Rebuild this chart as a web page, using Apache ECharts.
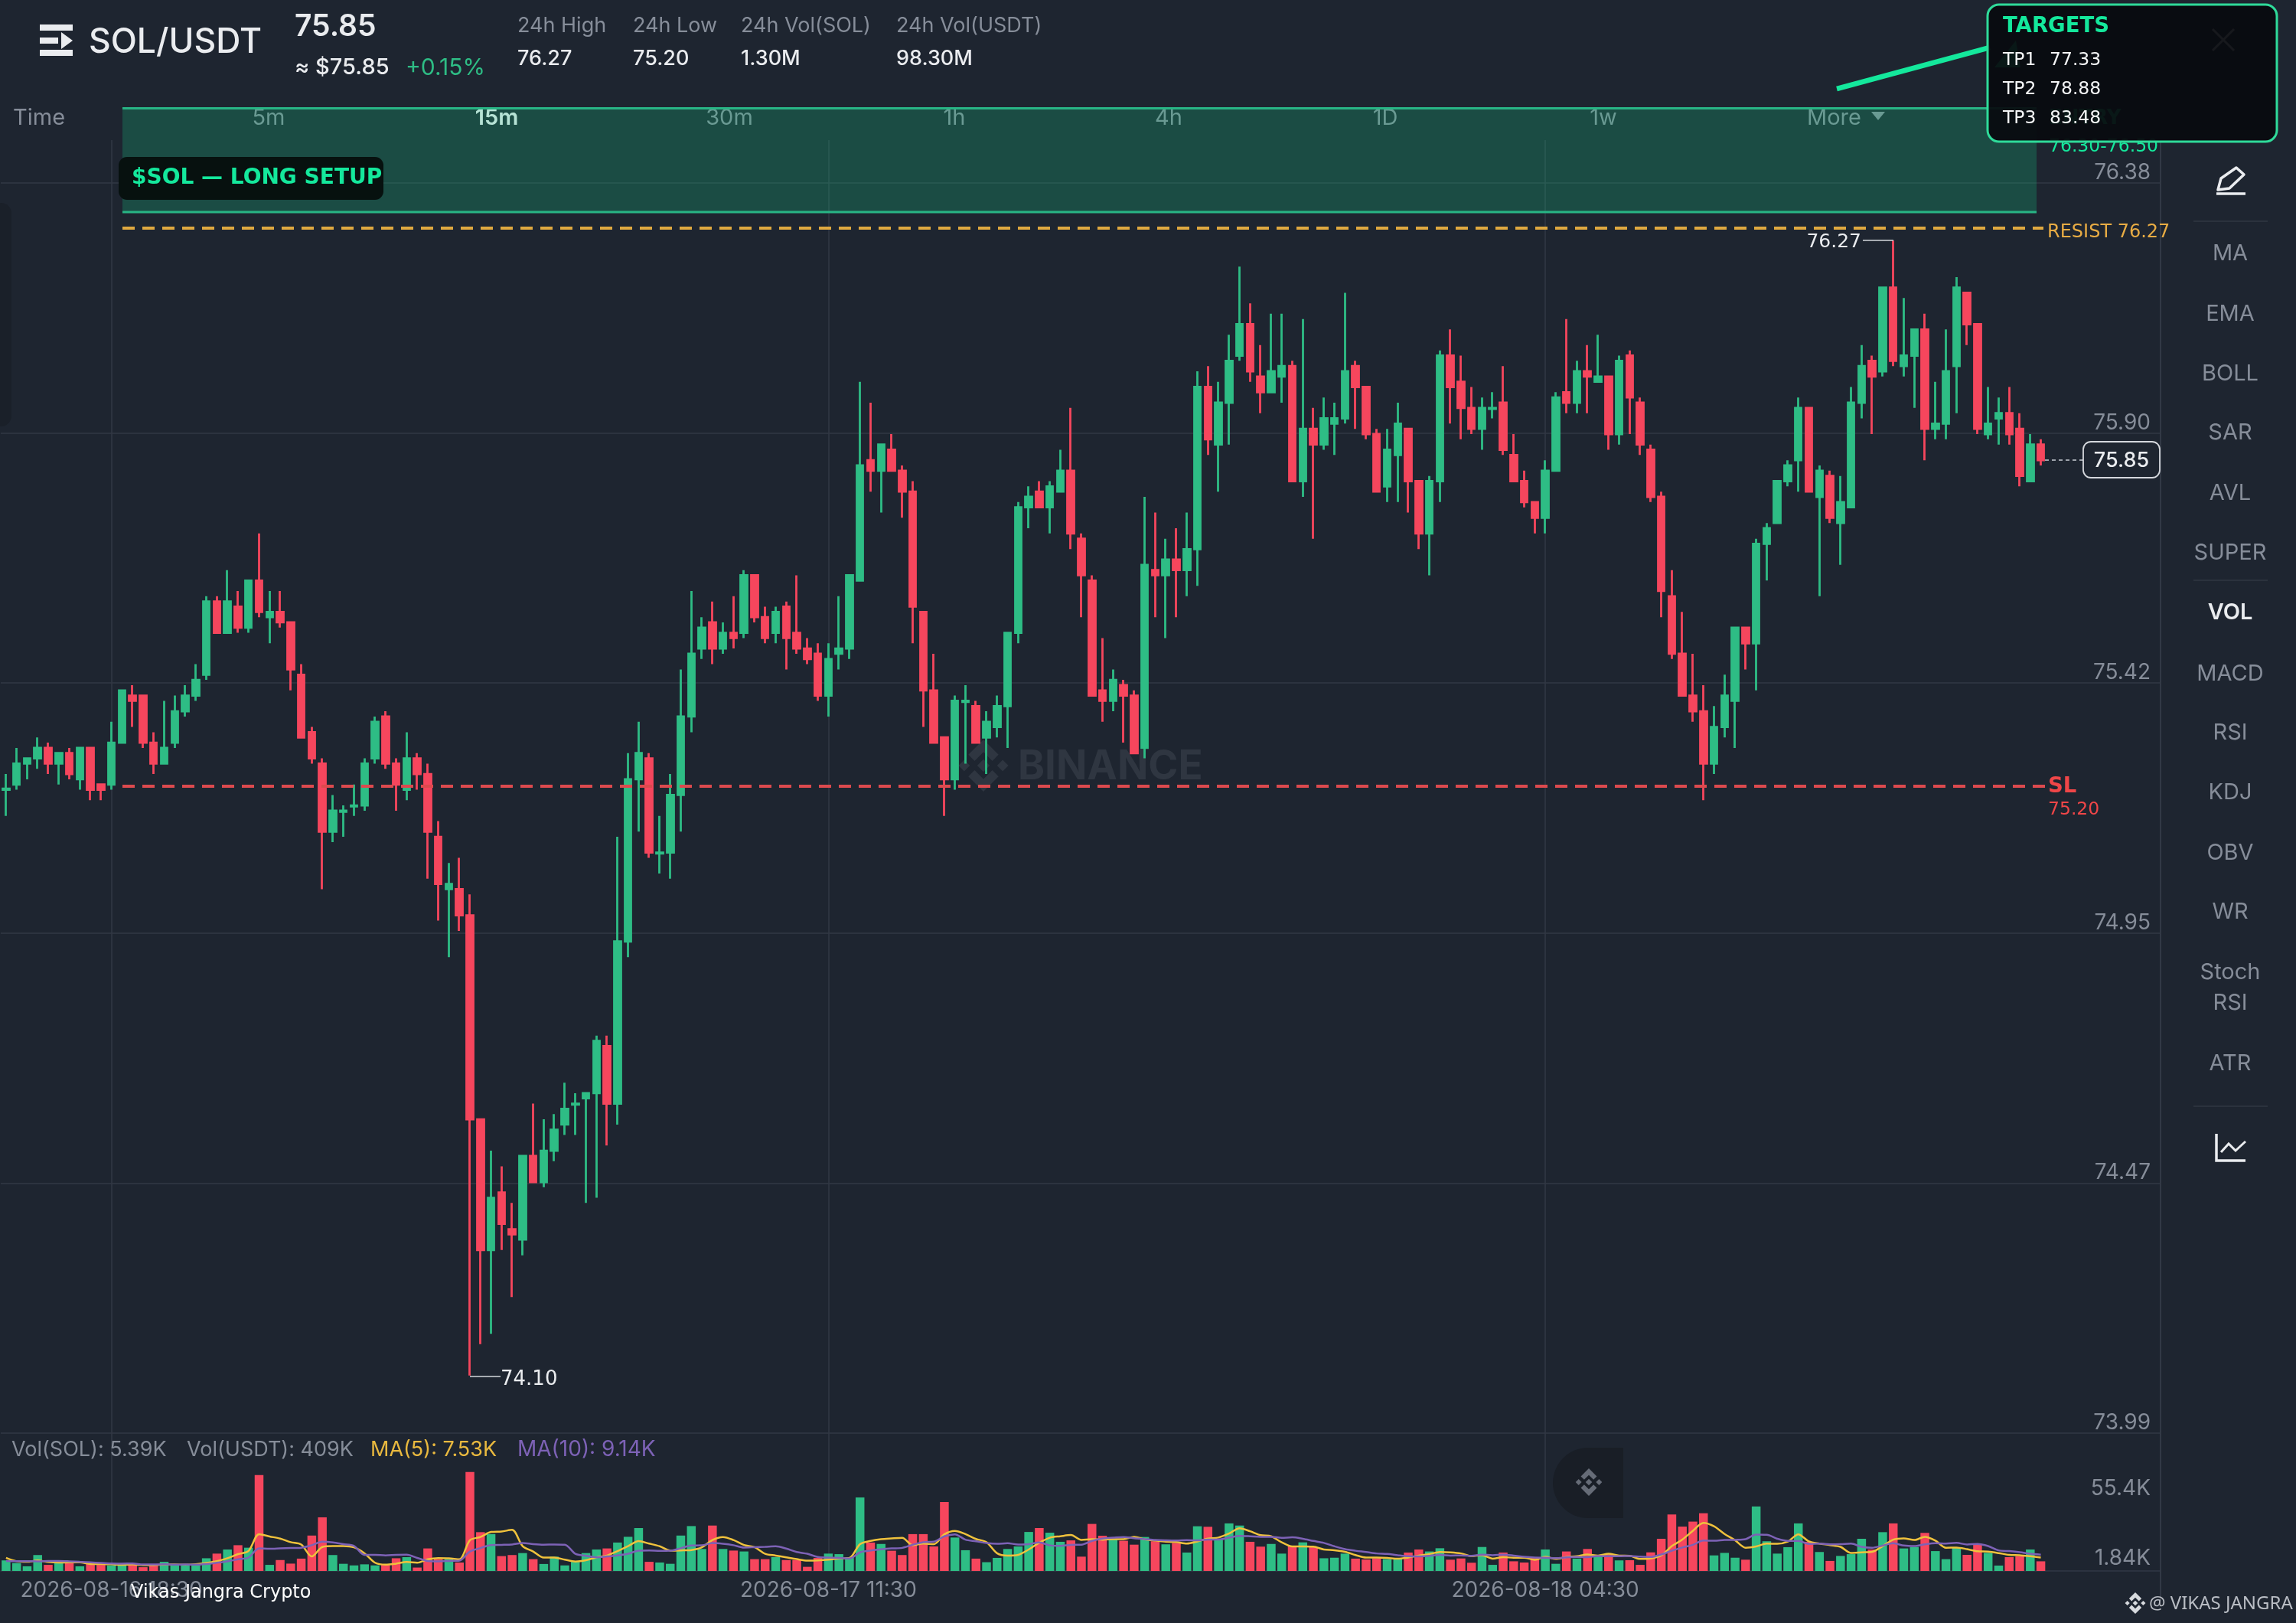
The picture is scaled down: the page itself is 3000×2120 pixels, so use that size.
<!DOCTYPE html>
<html><head><meta charset="utf-8">
<style>html,body{margin:0;padding:0;background:#1e2530}#c{width:3000px;height:2120px}</style>
<script src="https://cdn.jsdelivr.net/npm/echarts@6/dist/echarts.min.js"></script>
</head><body><div id="c"></div>
<script>
const opens=[75.22,75.23,75.27,75.28,75.30,75.27,75.29,75.24,75.30,75.23,
75.23,75.31,75.40,75.40,75.31,75.27,75.31,75.37,75.40,75.44,
75.58,75.52,75.57,75.53,75.62,75.55,75.56,75.54,75.44,75.33,
75.27,75.14,75.178,75.188,75.19,75.28,75.36,75.27,75.22,75.28,
75.25,75.13,75.03,75.03,74.98,74.59,74.34,74.45,74.38,74.36,
74.52,74.47,74.53,74.58,74.618,74.63,74.64,74.73,74.62,74.93,
75.24,75.28,75.098,75.10,75.21,75.36,75.49,75.54,75.49,75.52,
75.52,75.63,75.55,75.52,75.57,75.52,75.49,75.48,75.40,75.48,
75.49,75.62,75.85,75.83,75.87,75.83,75.79,75.56,75.41,75.32,
75.24,75.388,75.38,75.32,75.34,75.38,75.52,75.76,75.79,75.76,
75.79,75.83,75.70,75.62,75.41,75.39,75.42,75.40,75.30,75.64,
75.63,75.66,75.64,75.68,75.99,75.88,75.96,76.05,76.11,76.01,
75.98,76.01,76.03,75.81,75.91,75.88,75.92,75.93,76.03,75.99,
75.90,75.80,75.86,75.91,75.81,75.71,75.81,76.05,76.00,75.95,
75.91,75.948,75.96,75.86,75.81,75.77,75.74,75.83,75.98,75.96,
76.02,76.00,76.01,75.90,76.05,75.96,75.87,75.78,75.59,75.48,
75.40,75.37,75.27,75.34,75.39,75.53,75.50,75.69,75.73,75.81,
75.85,75.95,75.78,75.82,75.73,75.76,75.96,76.04,76.02,76.18,
76.03,76.05,76.10,75.91,75.92,76.03,76.17,76.11,75.90,75.93,
75.94,75.91,75.81,75.88];
const closes=[75.222,75.27,75.28,75.30,75.27,75.29,75.25,75.30,75.22,75.22,
75.31,75.41,75.39,75.31,75.27,75.30,75.37,75.40,75.43,75.58,
75.52,75.58,75.53,75.62,75.56,75.56,75.54,75.45,75.32,75.28,
75.14,75.18,75.18,75.19,75.27,75.35,75.27,75.23,75.28,75.25,
75.14,75.04,75.04,74.98,74.59,74.34,74.44,74.39,74.37,74.52,
74.47,74.53,74.57,74.61,74.62,74.64,74.74,74.62,74.93,75.24,
75.29,75.10,75.10,75.21,75.36,75.48,75.53,75.49,75.52,75.51,
75.63,75.55,75.51,75.56,75.51,75.49,75.47,75.40,75.47,75.49,
75.63,75.84,75.83,75.88,75.83,75.79,75.57,75.41,75.31,75.24,
75.39,75.39,75.31,75.35,75.38,75.52,75.76,75.78,75.76,75.80,
75.83,75.71,75.63,75.40,75.39,75.43,75.40,75.29,75.65,75.63,
75.66,75.64,75.68,75.99,75.89,75.96,76.04,76.11,76.02,75.98,
76.02,76.03,75.81,75.91,75.88,75.93,75.93,76.02,75.99,75.90,
75.79,75.87,75.92,75.81,75.71,75.81,76.05,75.99,75.95,75.91,
75.95,75.95,75.87,75.81,75.77,75.74,75.83,75.97,75.96,76.02,
76.01,76.01,75.90,76.04,75.97,75.88,75.78,75.60,75.48,75.40,
75.37,75.27,75.34,75.40,75.53,75.50,75.69,75.72,75.81,75.84,
75.95,75.79,75.83,75.74,75.77,75.96,76.03,76.01,76.18,76.04,
76.05,76.10,75.91,75.92,76.02,76.18,76.11,75.91,75.92,75.94,
75.90,75.82,75.88,75.85];
const lows=[75.17,75.22,75.24,75.26,75.25,75.23,75.24,75.22,75.20,75.20,
75.22,75.31,75.34,75.30,75.25,75.27,75.30,75.36,75.39,75.43,
75.52,75.52,75.52,75.52,75.55,75.50,75.53,75.41,75.32,75.27,
75.03,75.12,75.13,75.17,75.18,75.27,75.26,75.18,75.20,75.22,
75.05,74.97,74.90,74.95,74.10,74.16,74.18,74.34,74.25,74.33,
74.47,74.46,74.51,74.56,74.56,74.43,74.44,74.54,74.58,74.90,
75.14,75.09,75.06,75.05,75.14,75.33,75.47,75.46,75.48,75.49,
75.51,75.54,75.50,75.50,75.45,75.48,75.46,75.39,75.36,75.45,
75.47,75.62,75.79,75.75,75.83,75.74,75.50,75.34,75.31,75.17,
75.22,75.27,75.31,75.25,75.32,75.30,75.50,75.72,75.76,75.71,
75.79,75.68,75.55,75.40,75.35,75.37,75.31,75.29,75.28,75.55,
75.51,75.55,75.59,75.61,75.86,75.79,75.88,76.04,76.00,75.94,
75.98,75.96,75.81,75.78,75.70,75.87,75.86,75.92,75.91,75.89,
75.79,75.77,75.77,75.75,75.68,75.63,75.77,75.92,75.89,75.90,
75.87,75.93,75.86,75.81,75.76,75.71,75.71,75.83,75.94,75.94,
75.94,76.00,75.87,75.88,75.90,75.86,75.77,75.55,75.47,75.40,
75.35,75.20,75.25,75.32,75.30,75.45,75.41,75.62,75.73,75.80,
75.79,75.79,75.59,75.73,75.65,75.76,75.93,75.90,76.01,76.03,
76.01,75.95,75.85,75.89,75.89,75.94,76.07,75.90,75.89,75.88,
75.88,75.80,75.81,75.84];
const highs=[75.25,75.30,75.28,75.32,75.31,75.29,75.30,75.30,75.30,75.23,
75.35,75.41,75.42,75.40,75.33,75.39,75.40,75.42,75.46,75.59,
75.59,75.64,75.60,75.62,75.71,75.60,75.60,75.54,75.46,75.34,
75.28,75.21,75.19,75.23,75.28,75.36,75.37,75.28,75.33,75.29,
75.27,75.16,75.08,75.09,75.02,74.59,74.53,74.50,74.43,74.52,
74.62,74.59,74.60,74.66,74.64,74.64,74.75,74.75,75.13,75.29,
75.35,75.29,75.17,75.25,75.45,75.60,75.55,75.58,75.54,75.59,
75.64,75.63,75.57,75.57,75.58,75.63,75.51,75.50,75.50,75.59,
75.63,76.00,75.96,75.88,75.90,75.84,75.81,75.56,75.48,75.32,
75.40,75.42,75.39,75.37,75.40,75.52,75.77,75.80,75.81,75.81,
75.87,75.95,75.71,75.63,75.51,75.45,75.43,75.41,75.78,75.75,
75.70,75.72,75.75,76.02,76.03,76.00,76.09,76.22,76.15,76.07,
76.13,76.13,76.04,76.12,75.95,75.97,75.96,76.17,76.04,75.99,
75.91,75.91,75.96,75.91,75.81,75.82,76.06,76.10,76.05,75.99,
75.97,75.98,76.03,75.90,75.83,75.77,75.85,75.98,76.12,76.04,
76.07,76.09,76.01,76.05,76.06,75.97,75.88,75.79,75.64,75.56,
75.48,75.42,75.38,75.44,75.53,75.53,75.70,75.73,75.81,75.85,
75.97,75.95,75.84,75.83,75.82,75.99,76.07,76.05,76.18,76.27,
76.16,76.10,76.13,76.00,76.10,76.20,76.17,76.11,75.99,75.97,
75.99,75.94,75.90,75.89];
const volumes=[5.9,4.4,2.6,8.9,3.4,4.4,4.9,2.6,4.3,3.4,
3.1,3.7,3.7,2.1,3.4,5.1,3.7,3.1,3.7,7.1,
9.7,12.0,14.4,13.0,53.7,3.4,6.1,4.1,6.9,19.8,
30.0,8.9,4.0,3.1,3.7,3.1,3.4,7.1,7.7,1.9,
12.6,6.6,6.6,4.7,55.4,21.7,20.6,8.3,8.9,10.0,
6.6,3.9,8.0,3.1,5.1,10.0,12.0,12.6,15.9,19.1,
24.0,5.1,4.7,4.0,19.8,25.1,12.3,25.4,12.3,11.4,
10.9,6.6,6.6,7.7,6.1,6.1,2.3,7.3,9.7,9.4,
7.7,41.1,15.9,15.1,11.3,8.9,20.6,20.6,13.7,38.6,
18.7,11.6,6.9,4.9,7.3,12.3,13.7,21.8,24.0,21.4,
16.3,17.1,8.0,26.3,19.7,18.0,16.9,14.7,19.0,16.6,
14.9,15.7,10.3,25.0,24.7,18.0,26.6,25.4,16.3,13.6,
15.1,9.7,14.0,16.0,13.3,7.1,7.4,9.7,6.9,6.4,
7.1,6.6,7.0,10.3,12.0,10.9,12.7,6.3,7.0,4.6,
13.4,3.4,10.3,5.4,4.7,7.3,12.0,4.0,10.9,6.9,
12.3,8.7,9.4,5.9,6.0,3.4,10.4,18.0,31.6,24.8,
27.6,32.3,8.7,10.1,7.4,6.3,36.1,16.6,9.7,13.3,
26.6,16.3,10.6,5.6,8.4,9.4,18.0,12.0,21.7,26.6,
12.6,13.4,21.3,11.1,6.6,13.0,9.0,15.1,10.1,3.0,
7.7,8.3,12.0,5.39];
const ma5=[7.3,5.4,5.1,5.9,5.0,4.7,4.8,4.8,3.9,3.9,
3.7,3.4,3.6,3.2,3.2,3.6,3.6,3.5,3.8,4.5,
5.5,7.1,9.4,11.2,20.6,19.3,18.1,16.1,14.8,8.1,
13.4,13.9,13.9,13.2,9.9,4.6,3.5,4.1,5.0,4.6,
6.5,7.2,7.1,6.5,17.2,19.0,21.8,22.1,23.0,13.9,
10.9,7.5,7.5,6.3,5.3,6.0,7.6,8.6,11.1,13.9,
16.7,15.3,13.8,11.4,11.5,11.7,13.2,17.3,19.0,17.3,
14.5,13.3,9.6,8.6,7.6,6.6,5.8,5.9,6.3,7.0,
7.3,15.0,16.8,17.8,18.2,18.5,14.4,15.3,15.0,20.5,
22.4,20.6,17.9,16.1,9.9,8.6,9.0,12.0,15.8,18.6,
19.4,20.1,17.4,17.8,17.5,17.8,17.8,19.1,17.7,17.0,
16.4,16.2,15.3,16.5,18.1,18.7,20.9,23.9,22.2,20.0,
19.4,16.0,13.7,13.7,13.6,12.0,11.6,10.7,8.9,7.5,
7.5,7.3,6.8,7.5,8.6,9.4,10.6,10.4,9.8,8.3,
8.8,6.9,7.7,7.4,7.4,6.2,7.9,6.7,7.8,8.2,
9.2,8.6,9.6,8.6,8.5,6.7,7.0,8.7,13.9,17.6,
22.5,26.9,25.0,20.7,17.2,13.0,13.7,15.3,15.2,16.4,
20.5,16.5,15.3,14.5,13.5,10.1,10.4,10.7,13.9,17.5,
18.2,17.3,19.1,17.0,13.0,13.1,12.2,11.0,10.8,10.0,
9.0,8.8,8.2,7.53];
const ma10=[5.6,5.5,5.5,5.4,5.6,5.6,5.4,5.1,4.8,4.5,
4.2,4.1,4.2,3.6,3.6,3.7,3.5,3.6,3.5,3.9,
4.6,5.4,6.5,7.5,12.6,12.4,12.6,12.8,13.0,14.4,
16.4,16.0,15.0,14.0,9.0,9.0,8.7,9.0,9.1,7.3,
5.6,5.4,5.6,5.8,10.9,12.8,14.5,14.6,14.8,15.6,
15.0,14.7,14.8,14.7,9.6,8.5,7.6,8.1,8.7,9.6,
11.4,11.5,11.2,11.3,12.7,14.2,14.3,15.6,15.2,14.4,
13.1,13.3,13.5,13.8,12.5,10.6,9.6,7.8,7.5,7.3,
7.0,10.4,11.4,12.1,12.6,12.9,14.7,16.1,16.4,19.4,
20.5,17.5,16.6,15.6,15.2,15.5,14.8,15.0,16.0,14.3,
14.0,14.6,14.7,16.8,18.1,18.6,19.0,18.3,17.8,17.3,
17.1,17.0,17.2,17.1,17.6,17.6,18.6,19.6,19.4,19.1,
19.1,18.5,18.8,18.0,16.8,15.7,13.8,12.2,11.3,10.6,
9.8,9.5,8.8,8.2,8.1,8.5,9.0,8.6,8.7,8.5,
9.1,8.8,9.1,8.6,7.9,7.5,7.4,7.2,7.6,7.8,
7.7,8.3,8.2,8.2,8.4,8.0,7.8,9.2,11.3,13.1,
14.6,17.0,16.9,17.3,17.4,17.8,20.3,20.2,18.0,16.8,
16.8,15.1,15.3,14.9,15.0,15.3,13.5,13.0,14.2,15.5,
14.2,13.9,14.9,15.5,15.3,15.7,14.8,15.1,13.9,11.5,
11.1,10.5,9.6,9.14];
const timeTickIndex=[10,78,146];
const timeTickLabels=['2026-08-16 18:30','2026-08-17 11:30','2026-08-18 04:30'];
const priceTicks=[73.99,74.468,74.946,75.424,75.902,76.38];
const volumeTicks=[1.84,55.4];
const slotCount=205;
const categories=Array.from({length:slotCount},(_,i)=>{const k=timeTickIndex.indexOf(i);return k>=0?timeTickLabels[k]:String(i);});
const timeframes=[['5m',351],['15m',649],['30m',953],['1h',1247],['4h',1527],['1D',1810],['1w',2095]];
const indicators=[['MA',329],['EMA',408],['BOLL',486],['SAR',563],['AVL',642],['SUPER',720],['VOL',798],['MACD',878],['RSI',955],['KDJ',1033],['OBV',1112],['WR',1189],['Stoch',1268],['RSI',1308],['ATR',1387]];
const stats=[['24h High','76.27',676],['24h Low','75.20',827],['24h Vol(SOL)','1.30M',968],['24h Vol(USDT)','98.30M',1171]];

const UP='#2ebd85',DOWN='#f6465d',GRID='#323945',MUTED='#868d99',BG='#1e2530';
const UI='Inter,"Noto Sans",sans-serif',DV='"DejaVu Sans",sans-serif';
function T(text,x,y,size,fill,o={}){return {type:'text',z:o.z??50,silent:true,style:{text,x,y:y+2,fill,font:`${o.weight||400} ${size}px ${o.family||UI}`,textAlign:o.align||'left',textVerticalAlign:'middle',opacity:o.opacity??1}};}
function L(x1,y1,x2,y2,stroke,w,o={}){return {type:'line',z:o.z??50,silent:true,shape:{x1,y1,x2,y2},style:{stroke,lineWidth:w,lineDash:o.dash||null}};}
function P(points,fill,o={}){return {type:'polygon',z:o.z??50,silent:true,shape:{points},style:{fill,opacity:o.opacity??1}};}
function logo(cx,cy,r,fill,z){
  const pts=(a)=>a.map(p=>[cx+p[0]*r,cy+p[1]*r]);
  const top=[[0,-1],[.58,-.42],[.34,-.18],[0,-.52],[-.34,-.18],[-.58,-.42]];
  const bot=top.map(p=>[p[0],-p[1]]);
  const dia=(x,h)=>[[x,-h],[x+h,0],[x,h],[x-h,0]];
  return [top,bot,dia(0,.24),dia(-.74,.22),dia(.74,.22)].map(a=>P(pts(a),fill,{z}));
}
const g=[];
g.push({type:'rect',z:1,silent:true,shape:{x:-20,y:265,width:35,height:292,r:14},style:{fill:'#1a2029'}});
g.push(...logo(1285,1000,34,'#2f3641',1));
g.push(T('BINANCE',1330,1000,53,'#2f3641',{weight:700,z:1}));
g.push({type:'rect',z:50,silent:true,shape:{x:52,y:32,width:43,height:8},style:{fill:'#eaecef'}});
g.push({type:'rect',z:50,silent:true,shape:{x:52,y:49,width:24,height:8},style:{fill:'#eaecef'}});
g.push(P([[80,42],[95,53],[80,64]],'#eaecef'));
g.push({type:'rect',z:50,silent:true,shape:{x:52,y:65,width:43,height:8},style:{fill:'#eaecef'}});
g.push(T('SOL/USDT',116,54,44.5,'#eaecef',{weight:500}));
g.push(T('75.85',385,33,39,'#eaecef',{weight:600}));
g.push(T('≈ $75.85',385,86,29,'#eaecef',{weight:500}));
g.push(T('+0.15%',530,87,30,UP));
stats.forEach(s=>{g.push(T(s[0],s[2],32,27,MUTED));g.push(T(s[1],s[2],75,27,'#eaecef',{weight:500}));});
g.push(T('Time',17,152,29,MUTED));
timeframes.forEach(t=>g.push(T(t[0],t[1],152,29,t[0]==='15m'?'#eaecef':MUTED,{align:'center',weight:t[0]==='15m'?600:400})));
g.push(T('More',2361,152,29,MUTED));
g.push(P([[2445,146],[2463,146],[2454,157]],MUTED));
indicators.forEach(t=>g.push(T(t[0],2914,t[1],29,t[0]==='VOL'?'#eaecef':MUTED,{align:'center',weight:t[0]==='VOL'?600:400})));
[289,758,1445].forEach(y=>g.push(L(2866,y,2963,y,'#2b323d',2)));
g.push(L(2823,183,2823,2090,GRID,2,{z:4}));
g.push({type:'rect',z:3,silent:true,shape:{x:2824,y:183,width:6,height:1872},style:{fill:BG}});
g.push({type:'polygon',z:50,silent:true,shape:{points:[[2898,248],[2902,233],[2922,219],[2932,228],[2913,246]]},style:{fill:'none',stroke:'#eaecef',lineWidth:3.5,lineJoin:'round'}});
g.push(L(2896,253,2934,253,'#eaecef',3.5));
g.push({type:'polyline',z:50,silent:true,shape:{points:[[2896,1481],[2896,1516],[2934,1516]]},style:{fill:'none',stroke:'#eaecef',lineWidth:3.5}});
g.push({type:'polyline',z:50,silent:true,shape:{points:[[2902,1505],[2912,1494],[2921,1503],[2934,1491]]},style:{fill:'none',stroke:'#eaecef',lineWidth:3}});
g.push(L(2672,601,2722,601,'#c9cdd3',1.5,{dash:[5,4]}));
g.push({type:'rect',z:50,silent:true,shape:{x:2722,y:577,width:100,height:47,r:10},style:{fill:BG,stroke:'#d5d8dd',lineWidth:1.8}});
g.push(T('75.85',2772,600,27,'#eaecef',{align:'center',weight:500}));
g.push(L(2434,314,2474,314,'#d5d8dd',1.5));
g.push(T('76.27',2432,314,25,'#eaecef',{align:'right',family:DV}));
g.push(L(614,1798,654,1798,'#d5d8dd',1.5));
g.push(T('74.10',654,1800,26,'#eaecef',{family:DV}));
g.push(T('Vol(SOL): 5.39K',15,1892,27,MUTED));
g.push(T('Vol(USDT): 409K',244,1892,27,MUTED));
g.push(T('MA(5): 7.53K',484,1892,27,'#e9b93f'));
g.push(T('MA(10): 9.14K',676,1892,28,'#7d62b6'));
g.push({type:'rect',z:1,silent:true,shape:{x:2029,y:1891,width:92,height:92,r:[46,0,0,46]},style:{fill:'#191e26'}});
g.push(...logo(2076,1936,18,'#666c77',2));
g.push(T('Vikas Jangra Crypto',171,2079,24,'#ffffff',{family:DV,z:60}));
g.push(...logo(2790,2094,14,'#d7dade',50));
g.push(T('@ VIKAS JANGRA',2808,2093,24,'#b9bdc4',{family:'"Noto Sans",sans-serif'}));
g.push({type:'rect',z:70,silent:true,shape:{x:160,y:141,width:2501,height:136},style:{fill:'rgba(22,199,132,0.245)'}});
g.push(L(160,141.5,2661,141.5,'#28b585',3,{z:71}));
g.push(L(160,277,2661,277,'#28b585',3,{z:71}));
g.push(L(160,298,2670,298,'#e0a940',4,{z:71,dash:[16,10]}));
g.push(T('RESIST 76.27',2675,302,24,'#e8ac44',{family:DV,z:71}));
g.push(L(160,1027,2672,1027,'#dc4a4e',4,{z:71,dash:[16,10]}));
g.push(T('SL',2676,1026,27.5,'#ef4648',{family:DV,weight:700,z:71}));
g.push(T('75.20',2676,1056,23.5,'#ef4648',{family:DV,z:71}));
g.push({type:'rect',z:72,silent:true,shape:{x:155,y:205,width:346,height:56,r:11},style:{fill:'#07110f'}});
g.push(T('$SOL — LONG SETUP',172,231,28,'#14e89c',{family:DV,weight:700,z:73}));
g.push(T('ENTRY',2677,153,26,'#14e89c',{family:DV,weight:700,z:71}));
g.push(T('76.30-76.50',2677,190,23.5,'#14e89c',{family:DV,z:71}));
g.push(P([[2606,88],[2634,53],[2640,88]],'#14e89c',{z:71}));
g.push(L(2905-14,38,2905+14,66,'#ffffff',3,{z:71}));
g.push(L(2905+14,38,2905-14,66,'#ffffff',3,{z:71}));
g.push(L(2400,116,2600,62,'#14e89c',6.5,{z:74}));
g.push({type:'rect',z:75,silent:true,shape:{x:2597,y:6,width:378,height:179,r:15},style:{fill:'rgba(8,11,15,0.94)',stroke:'#2fdb9a',lineWidth:3}});
g.push(T('TARGETS',2617,33,27.5,'#14e89c',{family:DV,weight:700,z:76}));
[['TP1','77.33',77],['TP2','78.88',115],['TP3','83.48',153]].forEach(r=>{
  g.push(T(r[0],2617,r[2],23.5,'#f4f5f6',{family:DV,z:76}));
  g.push(T(r[1],2678,r[2],23.5,'#f4f5f6',{family:DV,z:76}));
});

const isTimeTick=(i)=>timeTickIndex.indexOf(i)>=0;
const chart=echarts.init(document.getElementById('c'),null,{renderer:'canvas',width:3000,height:2120});
chart.setOption({
  animation:false,backgroundColor:BG,
  grid:[{left:1,width:2824,top:183,height:1689},{left:1,width:2824,top:1872,height:180}],
  xAxis:[
    {type:'category',gridIndex:0,data:categories,boundaryGap:true,
     axisLine:{show:false},axisTick:{show:false},axisLabel:{show:false},
     splitLine:{show:true,interval:isTimeTick,alignWithLabel:true,lineStyle:{color:GRID,width:1.5}}},
    {type:'category',gridIndex:1,data:categories,boundaryGap:true,
     axisLine:{show:true,onZero:false,lineStyle:{color:GRID,width:1.5}},
     axisTick:{show:false},
     axisLabel:{show:true,interval:isTimeTick,color:MUTED,fontSize:28,fontFamily:UI,margin:12},
     splitLine:{show:true,interval:isTimeTick,alignWithLabel:true,lineStyle:{color:GRID,width:1.5}}}
  ],
  yAxis:[
    {type:'value',gridIndex:0,position:'right',min:73.99,max:76.462,scale:true,
     axisLine:{show:false},
     axisTick:{show:false,customValues:priceTicks},
     axisLabel:{inside:true,margin:15,customValues:priceTicks,formatter:v=>v.toFixed(2),color:MUTED,fontSize:28,fontFamily:UI,verticalAlign:'bottom',lineHeight:27},
     splitLine:{show:true,lineStyle:{color:GRID,width:1.5}}},
    {type:'value',gridIndex:1,position:'right',min:0,max:77.1,
     axisLine:{show:false},
     axisTick:{show:false,customValues:volumeTicks},
     axisLabel:{inside:true,margin:15,customValues:volumeTicks,
       formatter:v=>v>10?`{a|${v}K}`:`{b|${v}K}`,
       rich:{a:{color:MUTED,fontSize:28,fontFamily:UI,padding:[44,0,0,0]},b:{color:MUTED,fontSize:28,fontFamily:UI,padding:[0,0,24,0]}}},
     splitLine:{show:false}}
  ],
  series:[
    {type:'candlestick',name:'SOL/USDT',xAxisIndex:0,yAxisIndex:0,barWidth:9,
     data:opens.map((o,i)=>[o,closes[i],lows[i],highs[i]]),
     itemStyle:{color:UP,color0:DOWN,borderColor:UP,borderColor0:DOWN,borderWidth:2.8}},
    {type:'bar',name:'Vol',xAxisIndex:1,yAxisIndex:1,barWidth:11.5,
     data:volumes.map((v,i)=>({value:v,itemStyle:{color:closes[i]>=opens[i]?UP:DOWN}}))},
    {type:'line',name:'MA(5)',xAxisIndex:1,yAxisIndex:1,data:ma5,showSymbol:false,smooth:0.3,lineStyle:{color:'#f0c23c',width:2.5},z:3},
    {type:'line',name:'MA(10)',xAxisIndex:1,yAxisIndex:1,data:ma10,showSymbol:false,smooth:0.3,lineStyle:{color:'#7d62b6',width:2.5},z:4}
  ],
  graphic:{elements:g}
});
</script></body></html>
